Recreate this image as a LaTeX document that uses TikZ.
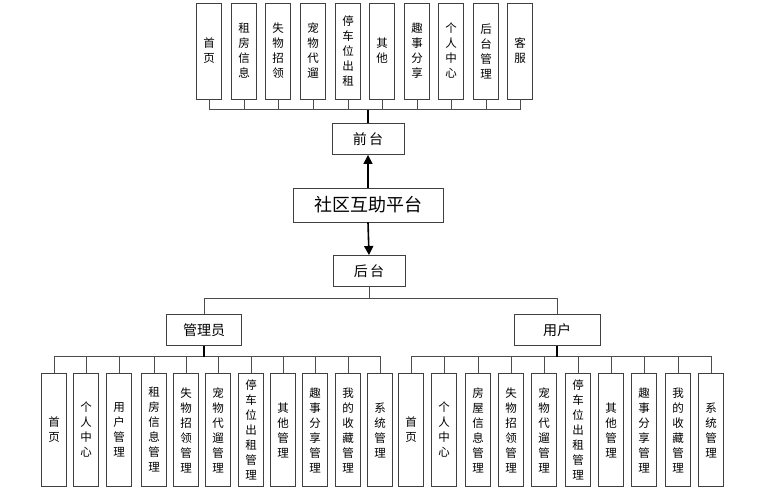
\documentclass[tikz,border=0pt]{standalone}
\usepackage{fontspec}
\setmainfont{Noto Sans CJK SC}
\usetikzlibrary{arrows.meta}
\begin{document}
\begin{tikzpicture}[x=1pt,y=-1pt,
 box/.style={draw=black!75,line width=0.9pt,fill=white,minimum width=25pt,inner sep=0pt,align=center,font=\fontsize{11.5}{15}\selectfont},
 top/.style={box,minimum height=96pt},
 bot/.style={box,minimum height=113pt},
 mid/.style={draw=black!75,line width=0.9pt,fill=white,minimum height=31pt,font=\fontsize{14}{16}\selectfont},
 ln/.style={draw=black!70,line width=0.8pt},
 arr/.style={line width=1.6pt,-{Triangle[length=9pt,width=9pt]}}]
\useasboundingbox (0,0) rectangle (781,490);
% top row
\foreach \x/\t [count=\i] in {209/首\\页,244/租\\房\\信\\息,278/失\\物\\招\\领,313/宠\\物\\代\\遛,348/停\\车\\位\\出\\租,382/其\\他,417/趣\\事\\分\\享,451/个\\人\\中\\心,486/后\\台\\管\\理,520/客\\服}
  {\node[top] (t\i) at (\x,51) {\t};}
\node[mid,minimum width=72pt] (qt) at (368,139) {前\,台};
\node[mid,minimum width=150pt,minimum height=34pt,font=\fontsize{18}{20}\selectfont] (pt) at (368,205) {社区互助平台};
\node[mid,minimum width=72pt] (ht) at (369,271) {后\,台};
\node[mid,minimum width=75pt] (gly) at (204,330) {管理员};
\node[mid,minimum width=86pt] (yh) at (557,330) {用户};
\foreach \x/\t [count=\i] in {54/首\\页,86/个\\人\\中\\心,119/用\\户\\管\\理,154/租\\房\\信\\息\\管\\理,186/失\\物\\招\\领\\管\\理,218/宠\\物\\代\\遛\\管\\理,251/停\\车\\位\\出\\租\\管\\理,283/其\\他\\管\\理,315/趣\\事\\分\\享\\管\\理,348/我\\的\\收\\藏\\管\\理,380/系\\统\\管\\理}
  {\node[bot] (l\i) at (\x,430) {\t};}
\foreach \x/\t [count=\i] in {411/首\\页,444/个\\人\\中\\心,478/房\\屋\\信\\息\\管\\理,511/失\\物\\招\\领\\管\\理,544/宠\\物\\代\\遛\\管\\理,578/停\\车\\位\\出\\租\\管\\理,611/其\\他\\管\\理,644/趣\\事\\分\\享\\管\\理,678/我\\的\\收\\藏\\管\\理,711/系\\统\\管\\理}
  {\node[bot] (r\i) at (\x,430) {\t};}
% connectors top
\foreach \i in {1,...,10} {\draw[ln] (t\i.south) -- ++(0,10) -| (qt.north);}
\draw[line width=1.4pt] (qt.north) -- ++(0,-13);
\draw[arr] (pt.north) -- (qt.south);
\draw[arr] (pt.south) -- (ht.north);
\draw[ln] (ht.south) -- ++(0,11) -| (gly.north);
\draw[ln] (ht.south) -- ++(0,11) -| (yh.north);
\foreach \i in {1,...,11} {\draw[ln] (l\i.north) -- ++(0,-17) -| (gly.south);}
\foreach \i in {1,...,10} {\draw[ln] (r\i.north) -- ++(0,-17) -| (yh.south);}
\draw[line width=1.4pt] (gly.south) -- ++(0,11);
\draw[line width=1.4pt] (yh.south) -- ++(0,11);
\end{tikzpicture}
\end{document}
